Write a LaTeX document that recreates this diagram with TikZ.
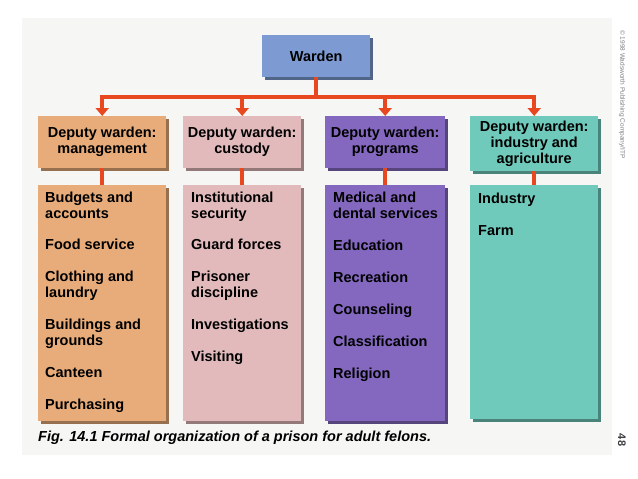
\documentclass[tikz,border=0pt]{standalone}
\usepackage{fontspec}
\setmainfont{Liberation Sans}
\usetikzlibrary{arrows.meta,shadows}
\definecolor{cwar}{RGB}{125,155,210}
\definecolor{cman}{RGB}{232,172,122}
\definecolor{ccus}{RGB}{226,186,188}
\definecolor{cpro}{RGB}{132,104,192}
\definecolor{cind}{RGB}{112,202,188}
\definecolor{cred}{RGB}{232,72,32}
\definecolor{cpage}{RGB}{246,246,244}
\tikzset{
  box/.style={fill=#1, draw=none, anchor=north west, inner sep=0,
    drop shadow={shadow xshift=3pt, shadow yshift=-3pt, fill=#1!65!black, opacity=1},
    font=\bfseries\fontsize{14.5}{16}\selectfont, align=center},
  item/.style={anchor=north west, inner sep=0, align=left,
    font=\bfseries\fontsize{14.5}{16}\selectfont},
  conn/.style={cred, line width=4pt},
  arr/.style={cred, line width=4pt, -{Triangle[width=13pt,length=8pt]}},
}
\begin{document}
\begin{tikzpicture}[x=1pt,y=-1pt]
\useasboundingbox (0,0) rectangle (638,479);
\fill[white] (0,0) rectangle (638,479);
\fill[cpage] (22,18) rectangle (612,455);
% boxes
\node[box=cwar, minimum width=108pt, minimum height=42pt] (w) at (262,35) {Warden};
\node[box=cman, minimum width=128pt, minimum height=52pt] (d1) at (38,116) {Deputy warden:\\management};
\node[box=ccus, minimum width=118pt, minimum height=52pt] (d2) at (183,116) {Deputy warden:\\custody};
\node[box=cpro, minimum width=120pt, minimum height=52pt] (d3) at (325,116) {Deputy warden:\\programs};
\node[box=cind, minimum width=128pt, minimum height=55pt] (d4) at (470,116) {Deputy warden:\\industry and\\agriculture};
\node[box=cman, minimum width=128pt, minimum height=236pt] (l1) at (38,185) {};
\node[box=ccus, minimum width=118pt, minimum height=236pt] (l2) at (183,185) {};
\node[box=cpro, minimum width=120pt, minimum height=236pt] (l3) at (325,185) {};
\node[box=cind, minimum width=128pt, minimum height=234pt] (l4) at (470,185) {};
% connectors
\coordinate (h) at (w.south |- 0,97);
\draw[conn] (w.south) -- (h);
\coordinate (hl) at (d1.north |- 0,97);
\coordinate (hr) at (d4.north |- 0,97);
\draw[conn, line cap=rect] (hl) -- (hr);
\draw[arr] (hl) -- (d1.north);
\draw[arr] (d2.north |- 0,97) -- (d2.north);
\draw[arr] (d3.north |- 0,97) -- (d3.north);
\draw[arr] (hr) -- (d4.north);
\draw[conn] (d1.south) -- (l1.north);
\draw[conn] (d2.south) -- (l2.north);
\draw[conn] (d3.south) -- (l3.north);
\draw[conn] (d4.south) -- (l4.north);
% items
\node[item] (a1) at (45,192) {Budgets and\\accounts};
\node[item] (a2) at (45,239) {Food service};
\node[item] (a3) at (45,271) {Clothing and\\laundry};
\node[item] (a4) at (45,319) {Buildings and\\grounds};
\node[item] (a5) at (45,367) {Canteen};
\node[item] (a6) at (45,399) {Purchasing};
\node[item] (b1) at (191,192) {Institutional\\security};
\node[item] (b2) at (191,239) {Guard forces};
\node[item] (b3) at (191,271) {Prisoner\\discipline};
\node[item] (b4) at (191,319) {Investigations};
\node[item] (b5) at (191,351) {Visiting};
\node[item] (c1) at (333,192) {Medical and\\dental services};
\node[item] (c2) at (333,240) {Education};
\node[item] (c3) at (333,272) {Recreation};
\node[item] (c4) at (333,304) {Counseling};
\node[item] (c5) at (333,336) {Classification};
\node[item] (c6) at (333,368) {Religion};
\node[item] (e1) at (478,193) {Industry};
\node[item] (e2) at (478,225) {Farm};
% caption and margin
\node[anchor=west, inner sep=0, font=\bfseries\itshape\fontsize{14.5}{16}\selectfont] (cap) at (38,438) {Fig. 14.1 Formal organization of a prison for adult felons.};
\node[rotate=-90, anchor=west, inner sep=0, text=gray, font=\fontsize{6.5}{7}\selectfont] (cr) at (622,30) {© 1998 Wadsworth Publishing Company/ITP};
\node[rotate=-90, inner sep=0, text=black!75, font=\bfseries\fontsize{11}{12}\selectfont] (pg) at (622,440) {48};
\end{tikzpicture}
\end{document}
